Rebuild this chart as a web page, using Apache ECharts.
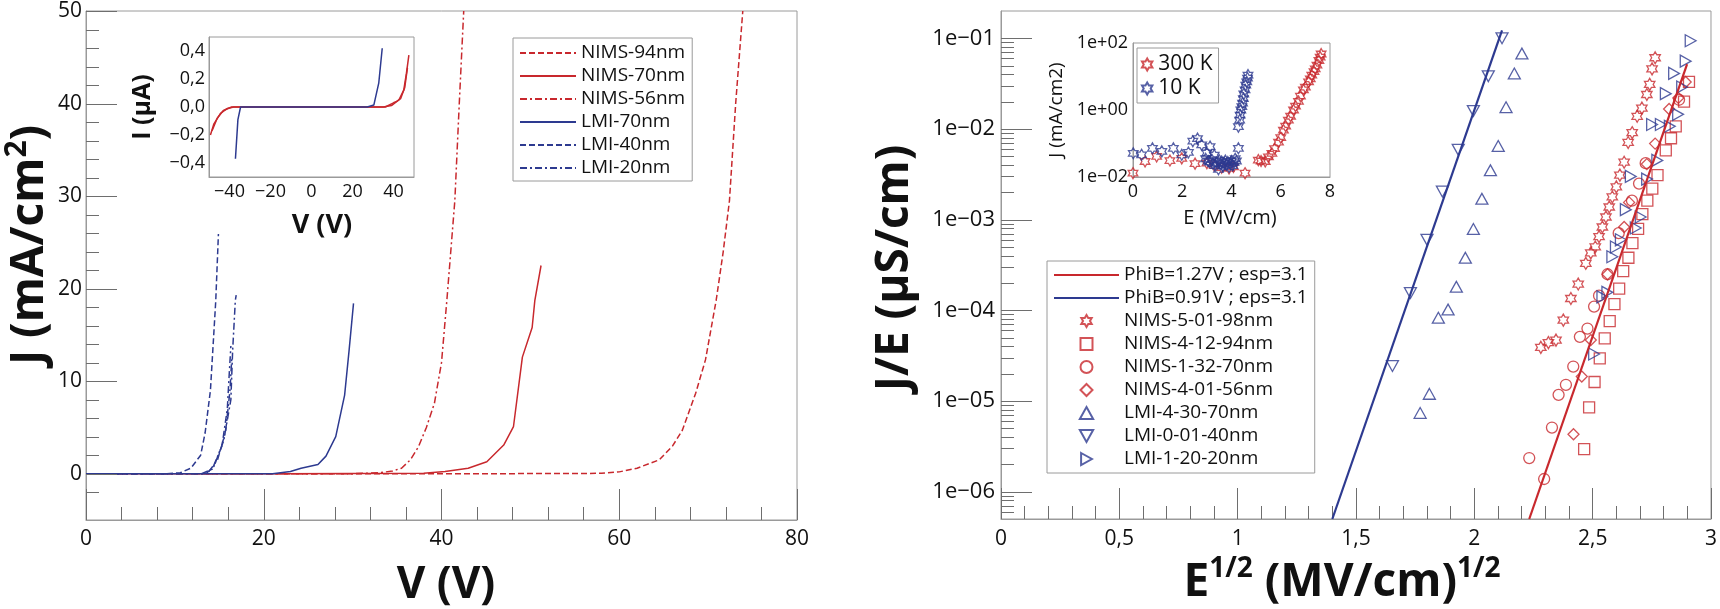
<!DOCTYPE html>
<html>
<head>
<meta charset="utf-8">
<script src="https://cdn.jsdelivr.net/npm/echarts@6/dist/echarts.min.js"></script>
<style>
  html, body { margin: 0; padding: 0; background: #fff; }
  #chart { width: 1720px; height: 609px; }
</style>
</head>
<body>
<div id="chart"></div>
<script>
// ---- left panel: J(V) curves, [V, J mA/cm2] ----
const nims94 = [[0,0],[40,0],[55,0.02],[58,0.05],[60,0.2],[62,0.6],[64.5,1.5],[66,3],[67.1,4.7],[68.6,8.7],[69.7,12.3],[70.9,18.7],[71.7,24],[72.4,29.5],[73.1,40],[73.9,50]]
const nims70 = [[0,0],[22,0],[38,0.05],[40.4,0.25],[43,0.6],[45.1,1.3],[47,3.1],[48.1,5.1],[49.1,12.6],[50.2,15.8],[50.5,18.7],[51.2,22.5]]
const nims56 = [[0,0],[30,0],[33,0.1],[34.5,0.3],[35.5,0.6],[36.5,1.5],[37.4,2.9],[38.3,5],[39.2,7.6],[40,12],[40.6,18.7],[41.5,29.5],[42,40],[42.5,50]]
const lmi70 = [[0,0],[21,0],[23,0.25],[24.2,0.6],[26.1,1.0],[27,1.9],[28.1,4],[29.1,8.5],[29.6,13.3],[30.1,18.4]]
const lmi40 = [[0,0],[9,0],[10.6,0.1],[11.8,0.6],[12.9,2],[13.4,4.4],[14,9],[14.6,18.7],[14.9,25.9]]
const lmi20 = [[0,0],[13.5,0],[14.4,0.8],[15.5,3.6],[16.3,8],[16.5,13.3],[16.8,18.7],[16.9,19.3]]
const lmi20b = [[13,0],[14.2,0.5],[15.3,3],[15.9,7],[16.1,10.5],[16.3,13.8]]
const lmi20c = [[13.8,0.2],[14.8,1.5],[15.7,4.5],[16.2,9],[16.4,12.5]]
const jMajor = [0, 10, 20, 30, 40, 50]
const jMinor = [-2, 2, 4, 6, 8, 12, 14, 16, 18, 22, 24, 26, 28, 32, 34, 36, 38, 42, 44, 46, 48]

// left inset: I(V), [V, I uA]
const insetRedA = [[-49.3,-0.2],[-47.6,-0.12],[-44.4,-0.045],[-41,-0.01],[-37.9,0],[35,0],[39,0.01],[42.6,0.05],[45,0.12],[46.3,0.24],[47.5,0.37]]
const insetRedB = [[-48.5,-0.17],[-46,-0.08],[-43,-0.025],[-39,0],[36,0],[40,0.03],[41.5,0.04],[43.5,0.06],[45.5,0.14],[46.8,0.28]]
const insetBlue = [[-37.1,-0.37],[-35.9,-0.09],[-34.6,0],[27.2,0],[30.4,0.014],[32.8,0.17],[34.5,0.42]]
const insetVTicks = [-40, -20, 0, 20, 40]
const insetITicks = [-0.4, -0.2, 0, 0.2, 0.4]

// ---- right panel: J/E vs E^1/2, [E^1/2, J/E uS/cm] ----
const fitNims = [[2.232, 5e-7], [2.899, 0.052]]
const fitLmi = [[1.400, 5e-7], [2.117, 0.122]]
const nims98 = [[2.281,3.9e-5],[2.313,4.4e-5],[2.345,4.7e-5],[2.376,7.8e-5],[2.408,1.35e-4],[2.439,1.95e-4],[2.471,3.3e-4],[2.492,4.3e-4],[2.511,5.0e-4],[2.527,6.5e-4],[2.541,8.3e-4],[2.556,1.07e-3],[2.570,1.38e-3],[2.583,1.78e-3],[2.600,2.3e-3],[2.615,3.1e-3],[2.633,4.3e-3],[2.650,7.1e-3],[2.667,9.1e-3],[2.688,1.38e-2],[2.708,1.7e-2],[2.729,2.4e-2],[2.741,3.1e-2],[2.751,4.6e-2],[2.764,6.1e-2]]
const nims94s = [[2.464,2.95e-6],[2.485,8.5e-6],[2.508,1.62e-5],[2.530,2.95e-5],[2.551,4.9e-5],[2.572,7.6e-5],[2.592,1.17e-4],[2.612,1.74e-4],[2.629,2.7e-4],[2.651,3.8e-4],[2.668,5.5e-4],[2.692,7.9e-4],[2.710,1.15e-3],[2.731,1.62e-3],[2.752,2.2e-3],[2.774,3.1e-3],[2.809,5.8e-3],[2.831,7.9e-3],[2.851,1.07e-2],[2.886,2.0e-2],[2.907,3.3e-2]]
const nims70s = [[2.232,2.35e-6],[2.295,1.38e-6],[2.328,5.1e-6],[2.356,1.17e-5],[2.387,1.51e-5],[2.418,2.4e-5],[2.446,5.1e-5],[2.478,6.3e-5],[2.506,1.1e-4],[2.527,1.45e-4],[2.563,2.5e-4],[2.610,7.1e-4],[2.666,1.62e-3],[2.696,2.5e-3],[2.724,4.2e-3],[2.865,2.1e-2]]
const nims56s = [[2.419,4.3e-6],[2.454,1.86e-5],[2.492,4.7e-5],[2.563,2.5e-4],[2.633,8.3e-4],[2.654,1.55e-3],[2.729,4.1e-3],[2.764,6.9e-3],[2.823,1.66e-2],[2.862,2.2e-2],[2.893,3.3e-2]]
const lmi70s = [[1.771,7.4e-6],[1.810,1.2e-5],[1.848,8.3e-5],[1.889,1.02e-4],[1.924,1.82e-4],[1.962,3.8e-4],[1.996,7.9e-4],[2.032,1.70e-3],[2.068,3.5e-3],[2.101,6.5e-3],[2.134,1.74e-2],[2.169,4.1e-2],[2.201,6.8e-2]]
const lmi40s = [[1.654,2.43e-5],[1.730,1.55e-4],[1.800,6.0e-4],[1.865,2.04e-3],[1.932,5.9e-3],[1.996,1.58e-2],[2.059,3.82e-2],[2.117,1.0e-1]]
const lmi20s = [[2.506,3.3e-5],[2.541,1.41e-4],[2.562,1.58e-4],[2.583,3.9e-4],[2.598,5.0e-4],[2.619,6.0e-4],[2.640,1.29e-3],[2.661,3.0e-3],[2.682,8.1e-4],[2.703,1.07e-3],[2.730,2.8e-3],[2.751,1.12e-2],[2.773,4.5e-3],[2.788,1.12e-2],[2.809,2.45e-2],[2.826,1.07e-2],[2.844,4.1e-2],[2.861,1.45e-2],[2.878,2.9e-2],[2.893,5.6e-2],[2.914,9.4e-2]]
const jeMajor = [1e-6, 1e-5, 1e-4, 1e-3, 1e-2, 1e-1]
const jeMinor = [6e-7, 7e-7, 8e-7, 9e-7]
for (let e = -6; e <= -2; e++) {
  for (let k = 2; k <= 9; k++) jeMinor.push(+(k + 'e' + e))
}

// right inset: J(E), [E MV/cm, J mA/cm2]
const k300 = [[0.0,0.013],[0.49,0.029],[0.96,0.041],[1.50,0.031],[1.98,0.036],[2.52,0.025],[3.0,0.026],[3.3,0.022],[3.6,0.019],[3.9,0.018],[4.08,0.02],[4.55,0.013],[5.09,0.032],[5.2,0.03],[5.37,0.029],[5.5,0.04],[5.64,0.051],[5.75,0.07],[5.91,0.11],[6.0,0.15],[6.11,0.25],[6.2,0.33],[6.31,0.5],[6.4,0.65],[6.52,1.0],[6.6,1.3],[6.72,1.8],[6.8,2.6],[6.92,4.0],[7.0,4.8],[7.13,6.9],[7.2,8.5],[7.26,11],[7.35,14],[7.4,17],[7.47,22],[7.55,30],[7.6,38],[7.64,47]]
const k10 = [[0.01,0.051],[0.35,0.046],[0.79,0.072],[1.17,0.058],[1.64,0.072],[1.98,0.046],[2.25,0.054],[2.43,0.117],[2.62,0.14],[2.79,0.091],[2.95,0.035],[3.0,0.052],[3.05,0.03],[3.1,0.028],[3.13,0.081],[3.2,0.033],[3.25,0.025],[3.3,0.045],[3.35,0.022],[3.4,0.027],[3.47,0.017],[3.5,0.032],[3.55,0.024],[3.6,0.029],[3.65,0.021],[3.7,0.026],[3.75,0.031],[3.8,0.023],[3.85,0.028],[3.9,0.02],[3.95,0.025],[4.0,0.03],[4.05,0.022],[4.1,0.027],[4.15,0.035],[4.2,0.03],[4.28,0.072],[4.28,0.32],[4.33,0.5],[4.35,0.7],[4.38,1.0],[4.42,1.26],[4.45,1.6],[4.48,2.2],[4.5,3.0],[4.55,4.0],[4.58,5.5],[4.62,6.9],[4.65,9],[4.67,11]]

const FONT = "'Open Sans', 'DejaVu Sans', sans-serif"
const RED = '#c8282d'
const BLUE = '#2d3a90'
const AX = '#9a9a9a'
const TK = '#6e6e6e'
const TXT = '#111'
// hollow marker outlines, as paths so the legend keeps their aspect
const STAR = 'path://M50 0L64.43 25L93.3 25L78.87 50L93.3 75L64.43 75L50 100L35.57 75L6.7 75L21.13 50L6.7 25L35.57 25Z'
const SQUARE = 'path://M0 0H10V10H0Z'
const DIAMOND = 'path://M5 0L10 5L5 10L0 5Z'
const TRI_UP = 'path://M5 0L10 9L0 9Z'
const TRI_DOWN = 'path://M0 0L10 0L5 9Z'
const TRI_RIGHT = 'path://M0 0L9 5L0 10Z'

function expLabel (v) {
  const e = Math.round(Math.log10(v))
  return '1e' + (e < 0 ? '\u2212' : '+') + String(Math.abs(e)).padStart(2, '0')
}
function comma (v, d) {
  const s = d == null ? String(+Math.abs(v).toFixed(3)) : Math.abs(v).toFixed(d)
  return (v < 0 ? '\u2212' : '') + s.replace('.', ',')
}

const axLine = () => ({ show: true, onZero: false, lineStyle: { color: AX, width: 1 } })
const tickStyle = () => ({ color: TK, width: 1 })

function lineSeries (name, data, color, type, ax, width) {
  return {
    name, type: 'line', data, xAxisIndex: ax, yAxisIndex: ax,
    symbol: 'none', smooth: false, silent: true,
    itemStyle: { color, opacity: 0 },
    lineStyle: { color, width: width || 1.5, type: type || 'solid' }
  }
}
function scatterSeries (name, data, color, symbol, size, ax) {
  return {
    name, type: 'scatter', data, xAxisIndex: ax, yAxisIndex: ax,
    symbol, symbolSize: size, symbolKeepAspect: true, silent: true,
    itemStyle: { color: 'transparent', borderColor: color, borderWidth: 1.3 }
  }
}

const DASH = [6, 3]
const DASHDOT = [7, 3, 2, 3]

const legendBase = {
  orient: 'vertical', backgroundColor: '#fff', borderColor: AX, borderWidth: 1, borderRadius: 0,
  selectedMode: false, symbolKeepAspect: true
}

const titles = [
  { type: 'text', x: 30, y: 245, rotation: Math.PI / 2, style: { text: '{b|J (mA/cm}{s|2}{b|)}', align: 'center', verticalAlign: 'middle', rich: { b: { fontSize: 46, fontWeight: 'bold', fontFamily: FONT, fill: TXT, lineHeight: 56 }, s: { fontSize: 30, fontWeight: 'bold', fontFamily: FONT, fill: TXT, lineHeight: 30, verticalAlign: 'top' } } } },
  { type: 'text', x: 446, y: 585, style: { text: 'V (V)', fontSize: 44, fontWeight: 'bold', fontFamily: FONT, fill: TXT, align: 'center', verticalAlign: 'middle' } },
  { type: 'text', x: 143, y: 107, rotation: Math.PI / 2, style: { text: 'I (µA)', fontSize: 25, fontWeight: 'bold', fontFamily: FONT, fill: TXT, align: 'center', verticalAlign: 'middle' } },
  { type: 'text', x: 322, y: 225, style: { text: 'V (V)', fontSize: 27, fontWeight: 'bold', fontFamily: FONT, fill: TXT, align: 'center', verticalAlign: 'middle' } },
  { type: 'text', x: 895, y: 268, rotation: Math.PI / 2, style: { text: 'J/E (µS/cm)', fontSize: 46, fontWeight: 'bold', fontFamily: FONT, fill: TXT, align: 'center', verticalAlign: 'middle' } },
  { type: 'text', x: 1342, y: 583, style: { text: '{b|E}{s|1/2}{b| (MV/cm)}{s|1/2}', align: 'center', verticalAlign: 'middle', rich: { b: { fontSize: 46, fontWeight: 'bold', fontFamily: FONT, fill: TXT, lineHeight: 56 }, s: { fontSize: 28, fontWeight: 'bold', fontFamily: FONT, fill: TXT, lineHeight: 30, verticalAlign: 'top' } } } },
  { type: 'text', x: 1057, y: 110, rotation: Math.PI / 2, style: { text: 'J (mA/cm2)', fontSize: 19, fontFamily: FONT, fill: TXT, align: 'center', verticalAlign: 'middle' } },
  { type: 'text', x: 1230, y: 218, style: { text: 'E (MV/cm)', fontSize: 20, fontFamily: FONT, fill: TXT, align: 'center', verticalAlign: 'middle' } }
]

const option = {
  animation: false,
  backgroundColor: '#fff',
  textStyle: { fontFamily: FONT },
  grid: [
    { left: 86, top: 11, width: 711, height: 509, show: true, borderColor: AX, borderWidth: 1 },
    { left: 209, top: 37, width: 205, height: 140, show: true, borderColor: AX, borderWidth: 1, backgroundColor: '#fff' },
    { left: 1001, top: 11, width: 711, height: 508, show: true, borderColor: AX, borderWidth: 1 },
    { left: 1133, top: 43, width: 197, height: 134, show: true, borderColor: AX, borderWidth: 1, backgroundColor: '#fff' }
  ],
  xAxis: [
    {
      gridIndex: 0, type: 'value', min: 0, max: 80, interval: 20,
      axisLine: axLine(),
      axisTick: { show: true, inside: true, length: 31, lineStyle: tickStyle() },
      minorTick: { show: true, splitNumber: 5, length: 13, lineStyle: tickStyle() },
      axisLabel: { fontSize: 21, color: TXT, margin: 9, fontFamily: FONT, showMinLabel: true, showMaxLabel: true },
      splitLine: { show: false }
    },
    {
      gridIndex: 1, type: 'value', min: -50, max: 50,
      axisLine: axLine(), axisTick: { show: false },
      axisLabel: { customValues: insetVTicks, fontSize: 18, color: TXT, margin: 6, fontFamily: FONT, formatter: v => comma(v) },
      splitLine: { show: false }
    },
    {
      gridIndex: 2, type: 'value', min: 0, max: 3, interval: 0.5,
      axisLine: axLine(),
      axisTick: { show: true, inside: true, length: 31, lineStyle: tickStyle() },
      minorTick: { show: true, splitNumber: 5, length: 13, lineStyle: tickStyle() },
      axisLabel: { fontSize: 21, color: TXT, margin: 10, fontFamily: FONT, showMinLabel: true, showMaxLabel: true, formatter: v => comma(v) },
      splitLine: { show: false }
    },
    {
      gridIndex: 3, type: 'value', min: 0, max: 8, interval: 2,
      axisLine: axLine(), axisTick: { show: false },
      axisLabel: { fontSize: 18, color: TXT, margin: 6, fontFamily: FONT, showMinLabel: true, showMaxLabel: true },
      splitLine: { show: false }
    }
  ],
  yAxis: [
    {
      gridIndex: 0, type: 'value', min: -5, max: 50,
      axisLine: axLine(), axisTick: { show: false },
      axisLabel: { customValues: jMajor, fontSize: 21, color: TXT, margin: 4, fontFamily: FONT },
      splitLine: { show: false }
    },
    {
      gridIndex: 1, type: 'value', min: -0.5, max: 0.5,
      axisLine: axLine(), axisTick: { show: false },
      axisLabel: { customValues: insetITicks, fontSize: 18, color: TXT, margin: 4, fontFamily: FONT, formatter: v => comma(v, 1) },
      splitLine: { show: false }
    },
    {
      gridIndex: 2, type: 'log', logBase: 10, min: 5e-7, max: 0.2,
      axisLine: axLine(), axisTick: { show: false }, minorTick: { show: false },
      axisLabel: { fontSize: 22, color: TXT, margin: 6, fontFamily: FONT, showMinLabel: false, showMaxLabel: false, formatter: expLabel },
      splitLine: { show: false }
    },
    {
      gridIndex: 3, type: 'log', logBase: 10, min: 0.01, max: 100, interval: 2,
      axisLine: axLine(), axisTick: { show: false },
      axisLabel: { fontSize: 18, color: TXT, margin: 5, fontFamily: FONT, formatter: expLabel },
      splitLine: { show: false }
    }
  ],
  legend: [
    Object.assign({}, legendBase, {
      data: ['NIMS-94nm', 'NIMS-70nm', 'NIMS-56nm', 'LMI-70nm', 'LMI-40nm', 'LMI-20nm'],
      left: 513, top: 38, itemWidth: 56, itemHeight: 14, itemGap: 3,
      padding: [5, 7, 3, 6],
      textStyle: { fontSize: 19, lineHeight: 20, color: TXT, fontFamily: FONT }
    }),
    Object.assign({}, legendBase, {
      data: ['PhiB=1.27V ; esp=3.1', 'PhiB=0.91V ; eps=3.1', 'NIMS-5-01-98nm', 'NIMS-4-12-94nm', 'NIMS-1-32-70nm', 'NIMS-4-01-56nm', 'LMI-4-30-70nm', 'LMI-0-01-40nm', 'LMI-1-20-20nm'],
      left: 1047, top: 261, itemWidth: 65, itemHeight: 12, itemGap: 3,
      padding: [4, 7, 4, 6],
      textStyle: { fontSize: 19, lineHeight: 20, color: TXT, fontFamily: FONT }
    }),
    Object.assign({}, legendBase, {
      data: ['300 K', '10 K'],
      left: 1137, top: 48, itemWidth: 12, itemHeight: 12, itemGap: 3,
      padding: [6, 6, 4, 4],
      textStyle: { fontSize: 21, lineHeight: 21, color: TXT, fontFamily: FONT }
    })
  ],
  graphic: { elements: titles },
  series: [
    lineSeries('NIMS-94nm', nims94, RED, DASH, 0),
    lineSeries('NIMS-70nm', nims70, RED, 'solid', 0),
    lineSeries('NIMS-56nm', nims56, RED, DASHDOT, 0),
    lineSeries('LMI-70nm', lmi70, BLUE, 'solid', 0),
    lineSeries('LMI-40nm', lmi40, BLUE, DASH, 0),
    lineSeries('LMI-20nm', lmi20, BLUE, DASHDOT, 0),
    lineSeries('LMI-20nm', lmi20b, BLUE, DASHDOT, 0),
    lineSeries('LMI-20nm', lmi20c, BLUE, DASHDOT, 0),
    lineSeries('inset NIMS a', insetRedA, RED, 'solid', 1),
    lineSeries('inset NIMS b', insetRedB, RED, 'solid', 1),
    lineSeries('inset LMI', insetBlue, BLUE, 'solid', 1),
    lineSeries('PhiB=1.27V ; esp=3.1', fitNims, RED, 'solid', 2, 2.2),
    lineSeries('PhiB=0.91V ; eps=3.1', fitLmi, BLUE, 'solid', 2, 2.2),
    scatterSeries('NIMS-5-01-98nm', nims98, RED, STAR, 12, 2),
    scatterSeries('NIMS-4-12-94nm', nims94s, RED, SQUARE, 11, 2),
    scatterSeries('NIMS-1-32-70nm', nims70s, RED, 'circle', 11, 2),
    scatterSeries('NIMS-4-01-56nm', nims56s, RED, DIAMOND, 11, 2),
    scatterSeries('LMI-4-30-70nm', lmi70s, BLUE, TRI_UP, 12, 2),
    scatterSeries('LMI-0-01-40nm', lmi40s, BLUE, TRI_DOWN, 12, 2),
    scatterSeries('LMI-1-20-20nm', lmi20s, BLUE, TRI_RIGHT, 12, 2),
    scatterSeries('300 K', k300, RED, STAR, 11, 3),
    scatterSeries('10 K', k10, BLUE, STAR, 11, 3)
  ]
}

const myChart = echarts.init(document.getElementById('chart'), null, { renderer: 'canvas' })
myChart.setOption(option)

// inward y-axis ticks, positioned through each grid's own axis scales
function yTickLines (gridAx, xMin, values, len) {
  return values.map(v => {
    const p = myChart.convertToPixel({ xAxisIndex: gridAx, yAxisIndex: gridAx }, [xMin, v])
    const y = Math.round(p[1]) + 0.5
    return {
      type: 'line', silent: true, z: 100,
      shape: { x1: Math.round(p[0]), y1: y, x2: Math.round(p[0]) + len, y2: y },
      style: { stroke: TK, lineWidth: 1 }
    }
  })
}
const tickLines = [].concat(
  yTickLines(0, 0, jMajor, 31),
  yTickLines(0, 0, jMinor, 13),
  yTickLines(2, 0, jeMajor, 31),
  yTickLines(2, 0, jeMinor, 13)
)
myChart.setOption({ graphic: { elements: titles.concat(tickLines) } })
</script>
</body>
</html>
